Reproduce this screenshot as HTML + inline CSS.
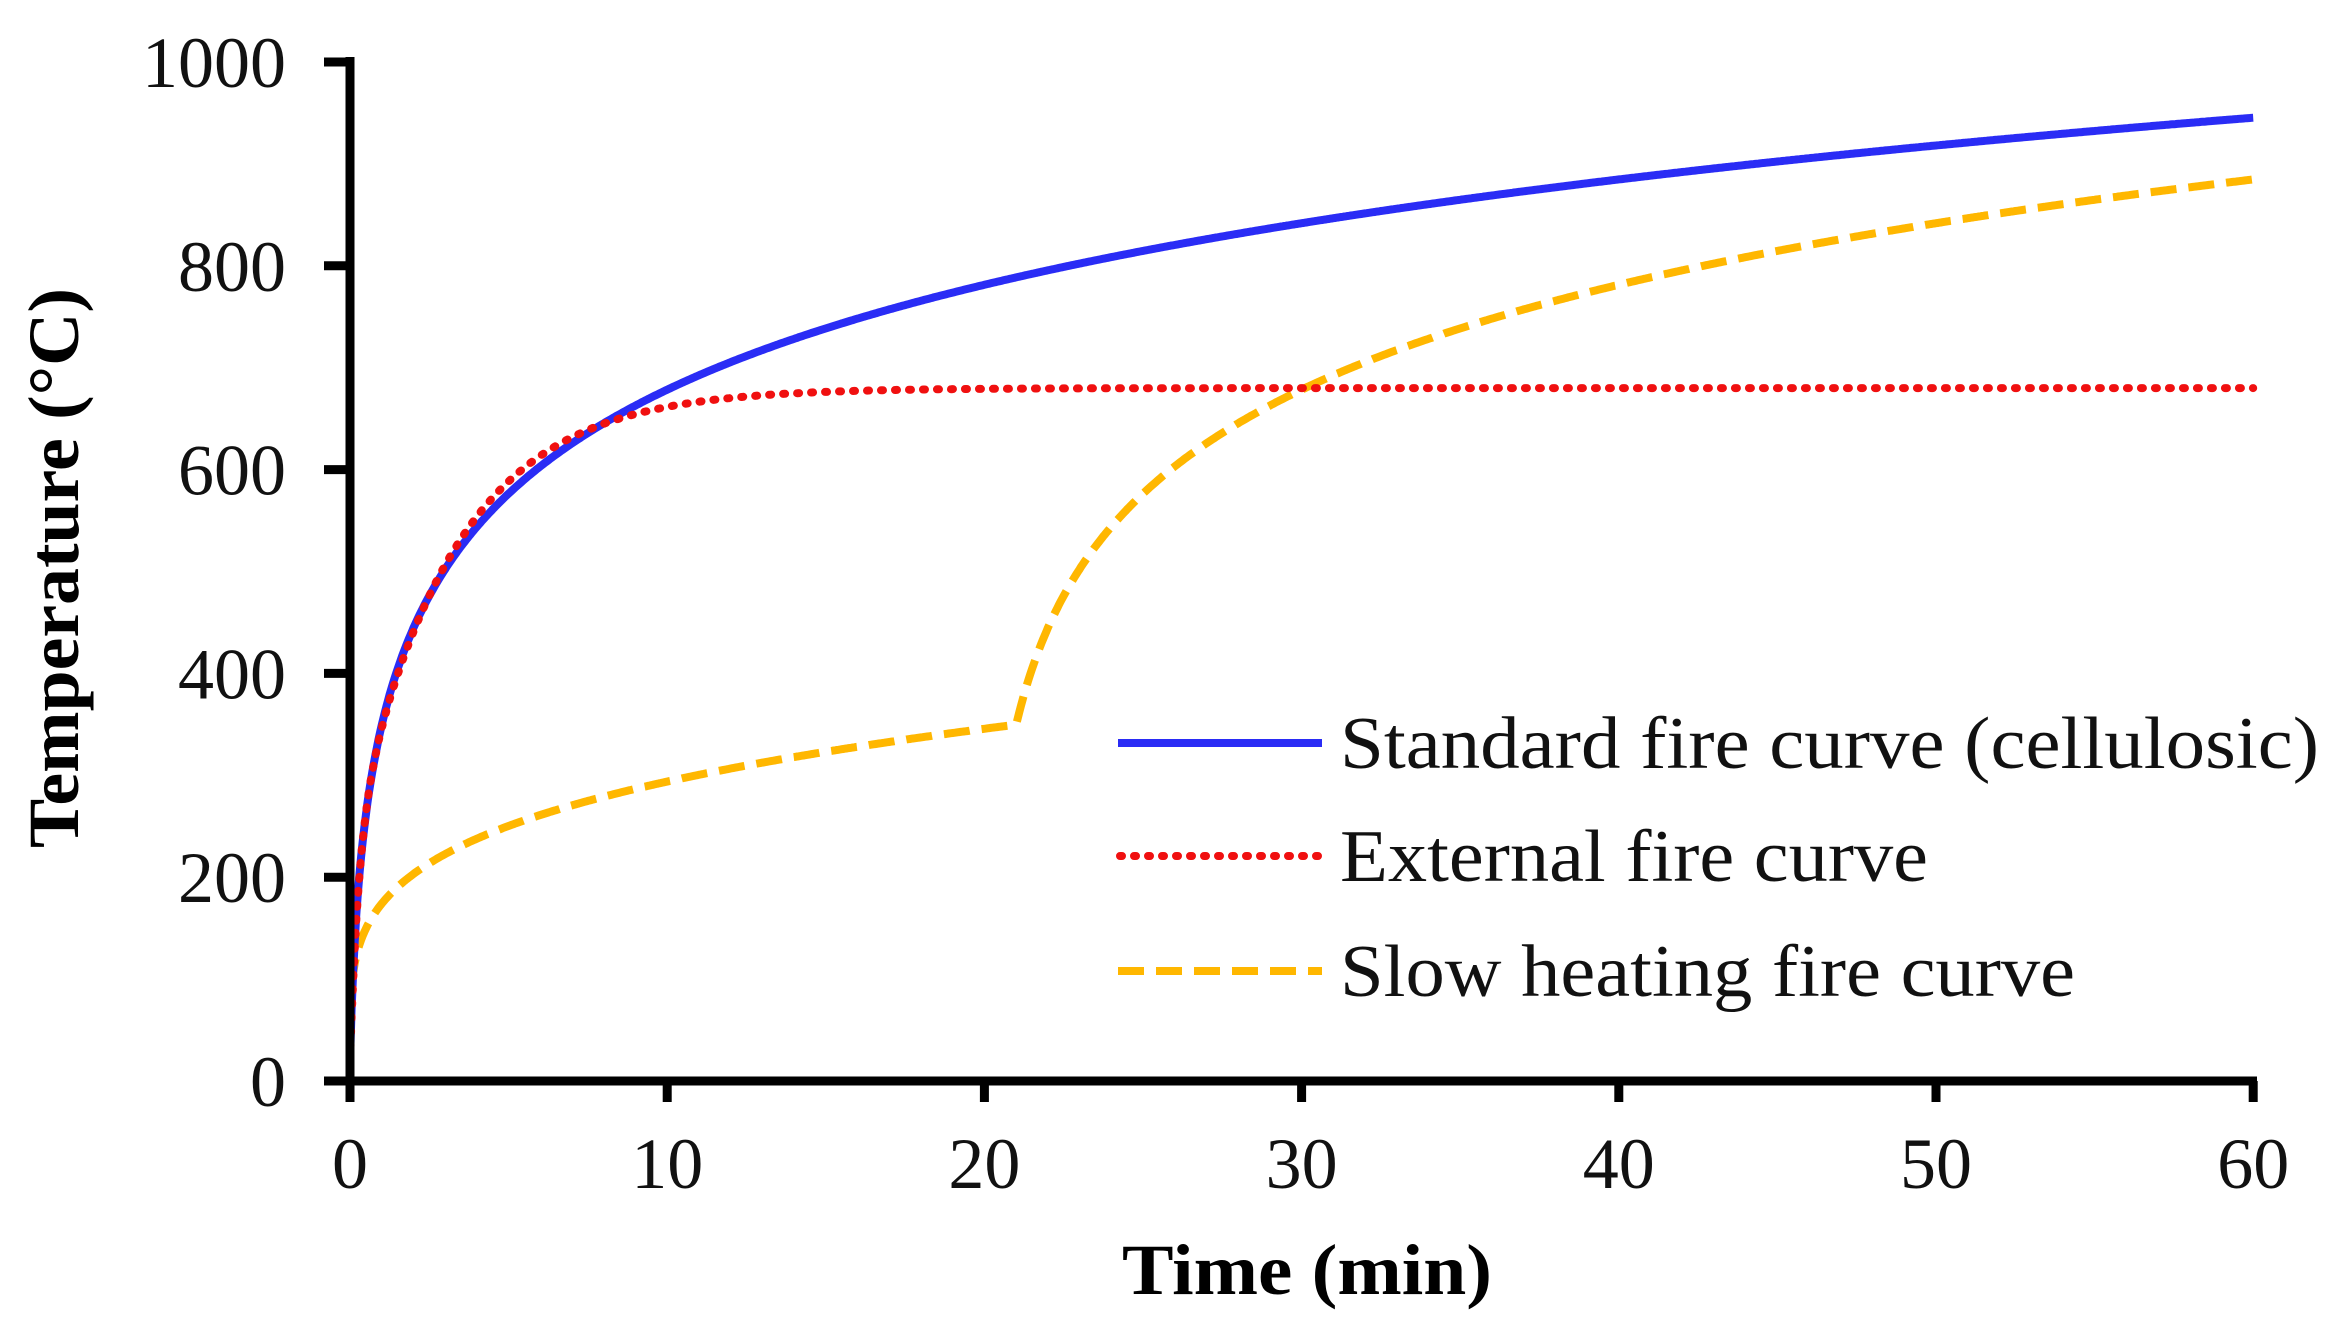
<!DOCTYPE html>
<html><head><meta charset="utf-8"><style>html,body{margin:0;padding:0;background:#fff}svg{display:block}</style></head>
<body>
<svg id="s" width="2335" height="1342" viewBox="0 0 2335 1342" xmlns="http://www.w3.org/2000/svg" font-family="Liberation Serif, serif">
<g id="curves"></g>
<g stroke="#000" stroke-width="9" fill="none">
<line x1="350" y1="57" x2="350" y2="1085"/>
<line x1="324" y1="1081" x2="2257" y2="1081"/>
</g>
<g id="ticks" stroke="#000" stroke-width="9"></g>
<g font-size="72" fill="#111" id="labels"></g>
<text x="1307" y="1294" font-size="72" font-weight="bold" text-anchor="middle" textLength="370" lengthAdjust="spacingAndGlyphs">Time (min)</text>
<text transform="translate(78,568) rotate(-90)" font-size="72" font-weight="bold" text-anchor="middle" textLength="560" lengthAdjust="spacingAndGlyphs">Temperature (°C)</text>
<g stroke-width="8" fill="none">
<line x1="1118" y1="743" x2="1322" y2="743" stroke="#2a2cf5"/>
<line x1="1120" y1="856" x2="1322" y2="856" stroke="#f01010" stroke-dasharray="2 12" stroke-linecap="round"/>
<line x1="1118" y1="971" x2="1322" y2="971" stroke="#ffb700" stroke-dasharray="26 12"/>
</g>
<g font-size="74" fill="#111">
<text x="1340" y="768" textLength="979" lengthAdjust="spacingAndGlyphs">Standard fire curve (cellulosic)</text>
<text x="1340" y="881" textLength="588" lengthAdjust="spacingAndGlyphs">External fire curve</text>
<text x="1340" y="996" textLength="735" lengthAdjust="spacingAndGlyphs">Slow heating fire curve</text>
</g>
</svg>
<script>
const X=t=>350+t*31.72, Y=v=>1081-v*1.019;
let std=[],ext=[],slow=[];
for(let i=0;i<=1200;i++){let t=i*0.05;
std.push([X(t),Y(20+345*Math.log10(8*t+1))]);
ext.push([X(t),Y(20+660*(1-0.687*Math.exp(-0.32*t)-0.313*Math.exp(-3.8*t)))]);
let s=t<=21?20+154*Math.pow(t,0.25):20+345*Math.log10(8*(t-20)+1);
slow.push([X(t),Y(s)]);}
const P=a=>a.map((p,i)=>(i?'L':'M')+p[0].toFixed(1)+' '+p[1].toFixed(1)).join('');
const g=document.getElementById('curves');
g.innerHTML=`<path d="${P(slow)}" stroke="#ffb700" stroke-width="8" fill="none" stroke-dasharray="26 12"/>
<path d="${P(std)}" stroke="#2a2cf5" stroke-width="8" fill="none"/>
<path d="${P(ext)}" stroke="#f01010" stroke-width="8" fill="none" stroke-dasharray="2 12" stroke-linecap="round"/>`;
let tk='',lb='';
for(let v=0;v<=1000;v+=200){tk+=`<line x1="324" y1="${Y(v)}" x2="350" y2="${Y(v)}"/>`;
lb+=`<text x="286" y="${Y(v)+25}" text-anchor="end">${v}</text>`;}
for(let t=0;t<=60;t+=10){tk+=`<line x1="${X(t)}" y1="1081" x2="${X(t)}" y2="1102"/>`;
lb+=`<text x="${X(t)}" y="1188" text-anchor="middle">${t}</text>`;}
document.getElementById('ticks').innerHTML=tk;
document.getElementById('labels').innerHTML=lb;
</script>
</body></html>
